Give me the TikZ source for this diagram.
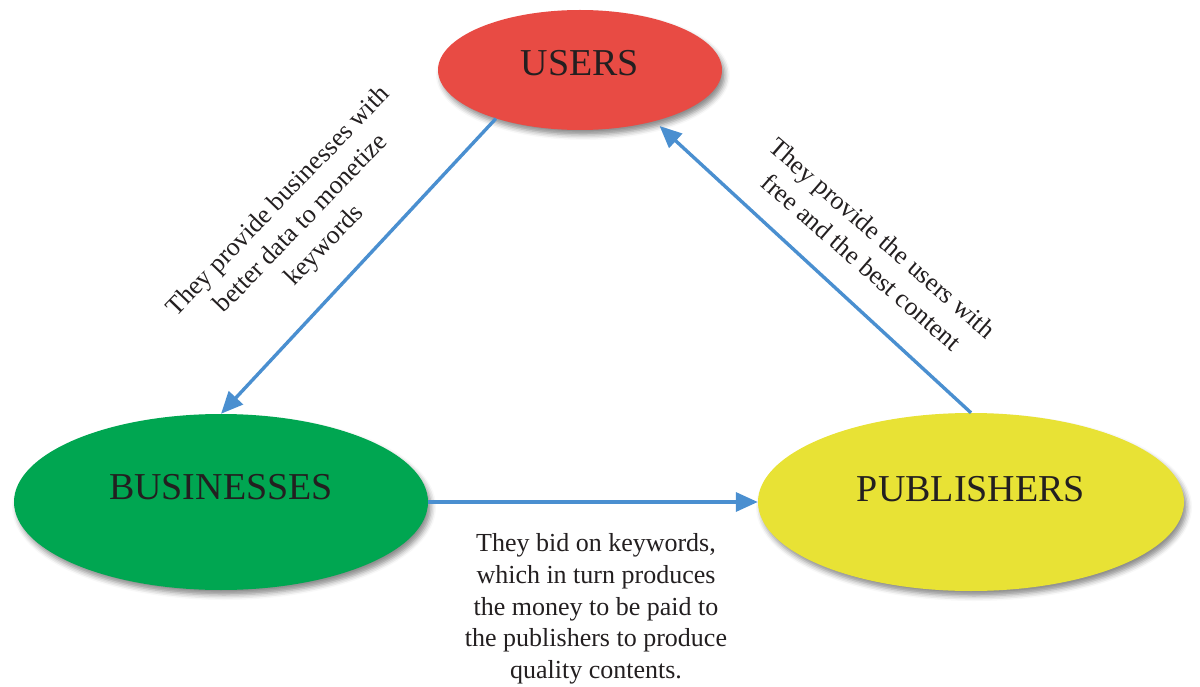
\documentclass[tikz,border=0pt]{standalone}
\usepackage{fontspec}
\setmainfont{Liberation Serif}
\usetikzlibrary{arrows.meta,shapes.geometric,shadows.blur}
\definecolor{ured}{HTML}{E84B44}
\definecolor{bgreen}{HTML}{00A651}
\definecolor{pyellow}{HTML}{E8E235}
\definecolor{txt}{HTML}{231F20}
\definecolor{arr}{HTML}{4A8FD0}
\tikzset{
  blob/.style={ellipse, inner sep=0pt, draw=none,
    blur shadow={shadow xshift=3pt, shadow yshift=-5pt, shadow blur radius=5pt, shadow opacity=45}},
  bigtxt/.style={font=\fontsize{38}{44}\selectfont, text=txt},
  smalltxt/.style={font=\fontsize{26}{31.75}\selectfont, text=txt, align=center},
  conn/.style={draw=arr, line width=3.4pt, -{Triangle[length=22pt,width=19pt]}}
}
\begin{document}
\begin{tikzpicture}[x=1pt,y=-1pt]
\useasboundingbox (0,0) rectangle (1200,687);
\node[blob, fill=ured, minimum width=284pt, minimum height=120pt,
  label={[bigtxt, yshift=7pt]center:USERS}] (U) at (580,70) {};
\node[blob, fill=bgreen, minimum width=414pt, minimum height=176pt,
  label={[bigtxt, yshift=15pt]center:BUSINESSES}] (B) at (221,502) {};
\node[blob, fill=pyellow, minimum width=426pt, minimum height=178pt,
  label={[bigtxt, yshift=13pt]center:PUBLISHERS}] (P) at (971,502) {};

\draw[conn] (U.-150) -- (B.north);
\draw[conn] (P.north) -- ([xshift=4pt,yshift=-5pt]U.-34);
\draw[conn] (B.east) -- (P.west);

\node[smalltxt, rotate=46] (L1) at (302,224) {They provide businesses with\\better data to monetize\\keywords};
\node[smalltxt, rotate=-41] (L2) at (872,250) {They provide the users with\\free and the best content};
\node[smalltxt] (L3) at (596,609) {They bid on keywords,\\which in turn produces\\the money to be paid to\\the publishers to produce\\quality contents.};
\end{tikzpicture}
\end{document}
